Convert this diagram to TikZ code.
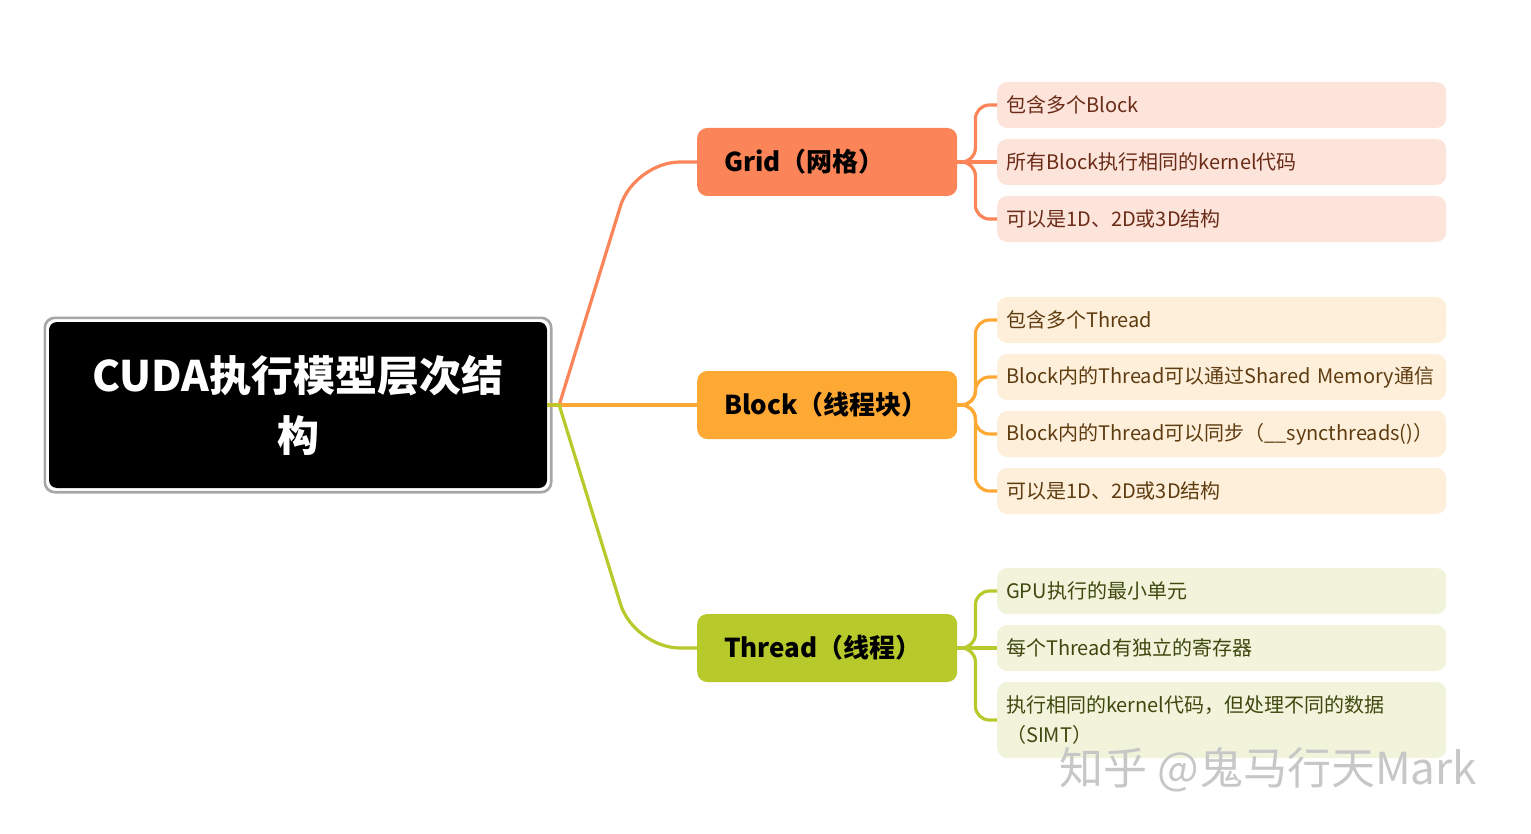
\documentclass[tikz,border=0pt]{standalone}
\usepackage{fontspec}
\setmainfont{Noto Sans CJK SC}
\usetikzlibrary{positioning}

\definecolor{gridc}{HTML}{FB8458}
\definecolor{blockc}{HTML}{FFA935}
\definecolor{threadc}{HTML}{B7C92B}
\definecolor{gridleaf}{HTML}{FDE4DA}
\definecolor{blockleaf}{HTML}{FEEFDA}
\definecolor{threadleaf}{HTML}{F1F4DA}
\definecolor{gridtext}{HTML}{6A2C18}
\definecolor{blocktext}{HTML}{5E3C10}
\definecolor{threadtext}{HTML}{404810}
\definecolor{rootrim}{HTML}{A6A6A6}

\tikzset{
  topic/.style={rounded corners=10pt, minimum width=260pt, minimum height=68pt,
    inner xsep=27pt, text width=206pt, align=left, anchor=west,
    font=\fontsize{26}{30}\selectfont\bfseries},
  leaf/.style={rounded corners=10pt, minimum width=449pt, minimum height=46pt,
    inner xsep=9pt, text width=431pt, align=left, anchor=west,
    font=\fontsize{20}{30}\selectfont},
  link/.style={line width=3.2pt},
  fork/.style={line width=3.2pt, rounded corners=14pt}
}

\begin{document}
\begin{tikzpicture}[x=1pt, y=-1pt]
    \useasboundingbox (0,0) rectangle (1531,834);

    %nodo centrale
    \node[fill=black, text=white, rounded corners=8pt, minimum width=498pt, minimum height=166pt,
      align=center, font=\fontsize{42}{60}\selectfont\bfseries] (root) at (298,405) {CUDA执行模型层次结\\构};
    \draw[rootrim, line width=2.6pt, rounded corners=10pt]
      ([shift={(-4pt,4pt)}]root.north west) rectangle ([shift={(4pt,-4pt)}]root.south east);

    %rami principali
    \node[topic, fill=gridc] (grid) at (697,162) {Grid（网格）};
    \node[topic, fill=blockc] (block) at (697,405) {Block（线程块）};
    \node[topic, fill=threadc] (thread) at (697,648) {Thread（线程）};

    \draw[link, gridc] (root.east) -- ++(12,0) [rounded corners=46pt] -- ([xshift=-63pt]grid.west) -- (grid.west);
    \draw[link, blockc] (root.east) -- (block.west);
    \draw[link, threadc] (root.east) -- ++(12,0) [rounded corners=46pt] -- ([xshift=-63pt]thread.west) -- (thread.west);

    %foglie Grid
    \node[leaf, fill=gridleaf, text=gridtext] (g1) at (997,105) {包含多个Block};
    \node[leaf, fill=gridleaf, text=gridtext] (g2) at (997,162) {所有Block执行相同的kernel代码};
    \node[leaf, fill=gridleaf, text=gridtext] (g3) at (997,219) {可以是1D、2D或3D结构};
    \draw[fork, gridc] (grid.east) -- ++(18,0) |- (g1.west);
    \draw[link, gridc] (grid.east) -- (g2.west);
    \draw[fork, gridc] (grid.east) -- ++(18,0) |- (g3.west);

    %foglie Block
    \node[leaf, fill=blockleaf, text=blocktext] (b1) at (997,320) {包含多个Thread};
    \node[leaf, fill=blockleaf, text=blocktext] (b2) at (997,377) {\mbox{Block内的Thread可以通过Shared Memory通信}};
    \node[leaf, fill=blockleaf, text=blocktext] (b3) at (997,434) {Block内的Thread可以同步（\_\_syncthreads()）};
    \node[leaf, fill=blockleaf, text=blocktext] (b4) at (997,491) {可以是1D、2D或3D结构};
    \foreach \b in {b1,b2,b3,b4}
      \draw[fork, blockc] (block.east) -- ++(18,0) |- (\b.west);

    %foglie Thread
    \node[leaf, fill=threadleaf, text=threadtext] (t1) at (997,591) {GPU执行的最小单元};
    \node[leaf, fill=threadleaf, text=threadtext] (t2) at (997,648) {每个Thread有独立的寄存器};
    \node[leaf, fill=threadleaf, text=threadtext, minimum height=76pt] (t3) at (997,720) {执行相同的kernel代码，但处理不同的数据\\（SIMT）};
    \draw[fork, threadc] (thread.east) -- ++(18,0) |- (t1.west);
    \draw[link, threadc] (thread.east) -- (t2.west);
    \draw[fork, threadc] (thread.east) -- ++(18,0) |- (t3.west);

    %filigrana
    \node[anchor=west, text=black!22, font=\fontsize{44}{44}\selectfont] (mark) at (1056,770) {知乎 @鬼马行天Mark};
\end{tikzpicture}
\end{document}
